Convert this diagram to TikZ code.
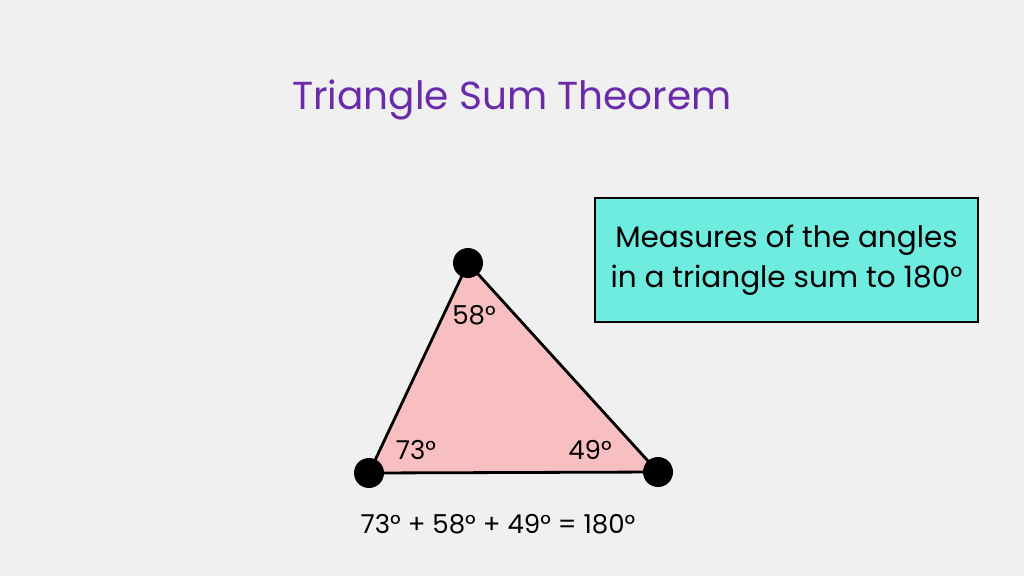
\documentclass[tikz,border=0pt]{standalone}
\usepackage{fontspec}
\setmainfont{Poppins}
\begin{document}
\begin{tikzpicture}[x=1pt,y=-1pt,
  vdot/.style={circle,fill=black,inner sep=0pt,minimum size=30pt},
  anglab/.style={font=\fontsize{26}{30}\selectfont,text=black},
]
\definecolor{bg}{HTML}{F0F0F0}
\definecolor{tri}{HTML}{F8BFC1}
\definecolor{boxc}{HTML}{6EECE0}
\definecolor{ttl}{HTML}{6A2BAA}
\useasboundingbox[fill=bg] (0,0) rectangle (1024,576);
\node[font=\fontsize{39}{44}\selectfont,text=ttl] (title) at (512,100) {Triangle Sum Theorem};
\coordinate (A) at (468,263);
\coordinate (B) at (369,473);
\coordinate (C) at (658,472);
\filldraw[fill=tri,draw=black,line width=2.8pt,line join=round] (A) -- (B) -- (C) -- cycle;
\node[vdot] (vA) at (A) {};
\node[vdot] (vB) at (B) {};
\node[vdot] (vC) at (C) {};
\node[anglab] (a58) at (474,315) {58°};
\node[anglab] (a73) at (416,450) {73°};
\node[anglab] (a49) at (590,450) {49°};
\node[draw=black,line width=1.5pt,fill=boxc,minimum width=383pt,minimum height=124pt,align=center,
  font=\fontsize{29.5}{40}\selectfont] (box) at (786.5,260) {Measures of the angles\\in a triangle sum to 180°};
\node[anglab] (sum) at (498,524) {73° + 58° + 49° = 180°};
\end{tikzpicture}
\end{document}
